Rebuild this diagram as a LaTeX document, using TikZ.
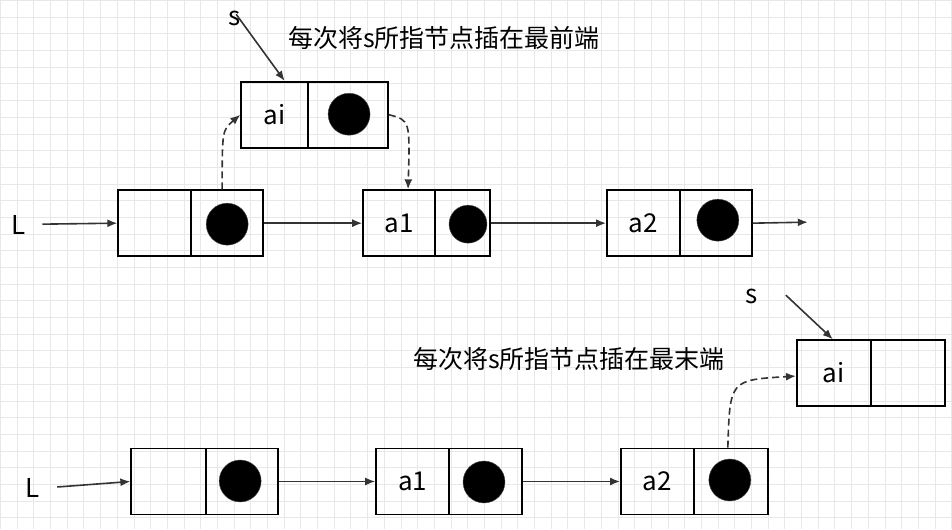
\documentclass[tikz,border=0pt]{standalone}
\usepackage{fontspec}
\setmainfont{Noto Sans CJK SC}
\usetikzlibrary{arrows.meta}
\begin{document}
\begin{tikzpicture}[x=1pt,y=-1pt,
  cell/.style={draw, line width=1.7pt, minimum height=66pt, inner sep=0pt, font=\fontsize{26}{28}\selectfont},
  dot/.style={circle, fill=black, draw=black!70, minimum size=42pt, inner sep=0pt},
  arr/.style={-{Latex[length=10pt,width=8pt]}, line width=1.6pt, draw=black!80},
  dsh/.style={arr, dash pattern=on 7pt off 4pt},
  lbl/.style={font=\fontsize{26}{28}\selectfont, inner sep=0pt},
  ttl/.style={font=\fontsize{25}{28}\selectfont, inner sep=0pt, anchor=west}]
\fill[white] (0,0) rectangle (952,529);
\draw[black!9, line width=0.6pt, step=16.7pt] (0,0) grid (952,529);
% top
\node[cell, minimum width=67pt] (aiL) at (274.5,114.5) {ai};
\node[cell, minimum width=80pt] (aiR) at (348,114.5) {};
\node[dot] (aiD) at (349,114) {};
\node[cell, minimum width=73pt] (h1L) at (154.5,223) {};
\node[cell, minimum width=72pt] (h1R) at (227,223) {};
\node[dot] (h1D) at (227,224) {};
\node[cell, minimum width=72pt] (a1L) at (399,223) {a1};
\node[cell, minimum width=55pt] (a1R) at (462.5,223) {};
\node[dot, minimum size=38pt] (a1D) at (468,224) {};
\node[cell, minimum width=73pt] (a2L) at (643.5,223) {a2};
\node[cell, minimum width=72pt] (a2R) at (716,223) {};
\node[dot] (a2D) at (718,220) {};
\node[lbl] (L1) at (18,225) {L};
\node[lbl] (s1) at (234,18) {s};
\node[ttl] (t1) at (288,38) {每次将s所指节点插在最前端};
\coordinate (e1) at (808,222);
\coordinate (l1) at (42,224);
\coordinate (s1a) at (236,14);
\draw[arr] (l1) -- (h1L.west);
\draw[arr] (h1R.east) -- (a1L.west);
\draw[arr] (a1R.east) -- (a2L.west);
\draw[arr] (a2R.east) -- (e1);
\draw[arr] (s1a) -- ([xshift=10pt]aiL.north);
\draw[dsh] ([xshift=-5pt]h1R.north) .. controls (222,130) .. (aiL.west);
\draw[dsh] (aiR.east) .. controls (410,120) .. ([xshift=9pt]a1L.north);
% bottom
\node[cell, minimum width=74pt] (biL) at (834,373) {ai};
\node[cell, minimum width=74pt] (biR) at (908,373) {};
\node[cell, minimum width=75pt] (h2L) at (168.5,481.5) {};
\node[cell, minimum width=72pt] (h2R) at (242,481.5) {};
\node[dot] (h2D) at (240,481) {};
\node[cell, minimum width=73pt] (b1L) at (412.5,481.5) {a1};
\node[cell, minimum width=73pt] (b1R) at (485.5,481.5) {};
\node[dot] (b1D) at (484,482) {};
\node[cell, minimum width=73pt] (b2L) at (657.5,481.5) {a2};
\node[cell, minimum width=74pt] (b2R) at (731,481.5) {};
\node[dot] (b2D) at (730,480) {};
\node[lbl] (L2) at (32,488) {L};
\node[lbl] (s2) at (752,296) {s};
\node[ttl] (t2) at (413,359) {每次将s所指节点插在最末端};
\coordinate (l2) at (57,487);
\coordinate (s2a) at (786,295);
\draw[arr] (l2) -- (h2L.west);
\draw[arr] (h2R.east) -- (b1L.west);
\draw[arr] (b1R.east) -- (b2L.west);
\draw[arr] (s2a) -- ([xshift=-1pt]biL.north);
\draw[dsh] ([xshift=-3pt]b2R.north) .. controls (730,380) .. ([yshift=-3pt]biL.west);
\end{tikzpicture}
\end{document}
